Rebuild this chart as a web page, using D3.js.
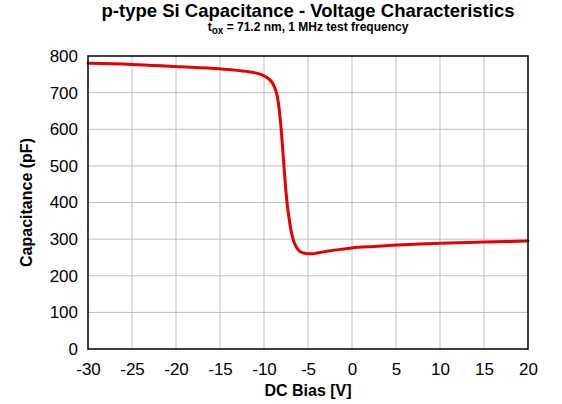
<!DOCTYPE html>
<html>
<head>
<meta charset="utf-8">
<script src="https://cdn.jsdelivr.net/npm/d3@7"></script>
<style>
  html, body { margin: 0; padding: 0; background: #fff; }
  svg { display: block; font-family: "Liberation Sans", Arial, sans-serif; }
</style>
</head>
<body>
<svg id="chart"></svg>
<script>
// Data
const biasValues = [-30, -25, -20, -15, -12, -11, -10, -9.5, -9, -8.7, -8.4, -8.2, -8.0, -7.8, -7.5, -7.2, -6.9, -6.6, -6.3, -6.0, -5.5, -5.0, -4.5, -4, -3, -2, -1, 0, 2.5, 5, 10, 15, 20];
const capValues = [780, 777, 771, 765, 758, 754, 746, 738, 725, 708, 678, 638, 585, 522, 428, 365, 320, 293, 277, 268, 262, 260, 260, 262, 266, 270, 273, 276, 280, 284, 289, 292, 295];
const xTicks = [-30, -25, -20, -15, -10, -5, 0, 5, 10, 15, 20];
const yTicks = [0, 100, 200, 300, 400, 500, 600, 700, 800];

const titleText = "p-type Si Capacitance - Voltage Characteristics";
const xTitle = "DC Bias [V]";
const yTitle = "Capacitance (pF)";

const width = 562;
const height = 404;
const marginTop = 56;
const marginRight = 34;
const marginBottom = 55;
const marginLeft = 88;

const svg = d3.select("#chart")
  .attr("width", width)
  .attr("height", height)
  .attr("viewBox", [0, 0, width, height]);

const x = d3.scaleLinear()
  .domain([-30, 20])
  .range([marginLeft, width - marginRight]);

const y = d3.scaleLinear()
  .domain([0, 800])
  .range([height - marginBottom, marginTop]);

// grid lines
svg.append("g")
  .attr("stroke", "#c0c0c0")
  .attr("stroke-width", 1)
  .selectAll("line")
  .data(xTicks.slice(1, -1))
  .join("line")
  .attr("x1", d => x(d)).attr("x2", d => x(d))
  .attr("y1", y(0)).attr("y2", y(800));

svg.append("g")
  .attr("stroke", "#c0c0c0")
  .attr("stroke-width", 1)
  .selectAll("line")
  .data(yTicks.slice(1, -1))
  .join("line")
  .attr("x1", x(-30)).attr("x2", x(20))
  .attr("y1", d => y(d)).attr("y2", d => y(d));

// axes (labels only, frame drawn below); plain hyphen for negatives
const xAxis = svg.append("g")
  .attr("transform", `translate(0,${y(0)})`)
  .call(d3.axisBottom(x).tickValues(xTicks).tickFormat(d => String(d)).tickSize(0).tickPadding(14));
xAxis.select(".domain").remove();
xAxis.selectAll("text")
  .attr("font-family", "Liberation Sans, Arial, sans-serif")
  .attr("font-size", 17)
  .attr("fill", "#000");

const yAxis = svg.append("g")
  .attr("transform", `translate(${x(-30)},0)`)
  .call(d3.axisLeft(y).tickValues(yTicks).tickFormat(d => String(d)).tickSize(0).tickPadding(10));
yAxis.select(".domain").remove();
yAxis.selectAll("text")
  .attr("font-family", "Liberation Sans, Arial, sans-serif")
  .attr("font-size", 17)
  .attr("fill", "#000");

// the C-V curve
const line = d3.line()
  .x((d, i) => x(biasValues[i]))
  .y(d => y(d))
  .curve(d3.curveMonotoneX);

svg.append("path")
  .datum(capValues)
  .attr("fill", "none")
  .attr("stroke", "#e60000")
  .attr("stroke-width", 3)
  .attr("stroke-linejoin", "round")
  .attr("stroke-linecap", "round")
  .attr("d", line);

// plot frame
svg.append("rect")
  .attr("x", x(-30))
  .attr("y", y(800))
  .attr("width", x(20) - x(-30))
  .attr("height", y(0) - y(800))
  .attr("fill", "none")
  .attr("stroke", "#000")
  .attr("stroke-width", 1.5);

// titles
const cx = (x(-30) + x(20)) / 2;

svg.append("text")
  .attr("x", cx)
  .attr("y", 17)
  .attr("text-anchor", "middle")
  .style("font-size", "18.5px")
  .style("font-weight", "bold")
  .text(titleText);

const sub = svg.append("text")
  .attr("x", cx)
  .attr("y", 31)
  .attr("text-anchor", "middle")
  .style("font-size", "12px")
  .style("font-weight", "bold");
sub.append("tspan").text("t");
sub.append("tspan").attr("dy", 2.5).style("font-size", "10px").text("ox");
sub.append("tspan").attr("dy", -2.5).text(" = 71.2 nm, 1 MHz test frequency");

svg.append("text")
  .attr("x", cx)
  .attr("y", 396)
  .attr("text-anchor", "middle")
  .style("font-size", "16px")
  .style("font-weight", "bold")
  .text(xTitle);

svg.append("text")
  .attr("transform", `translate(32,${(y(0) + y(800)) / 2}) rotate(-90)`)
  .attr("text-anchor", "middle")
  .style("font-size", "16px")
  .style("font-weight", "bold")
  .text(yTitle);
</script>
</body>
</html>
